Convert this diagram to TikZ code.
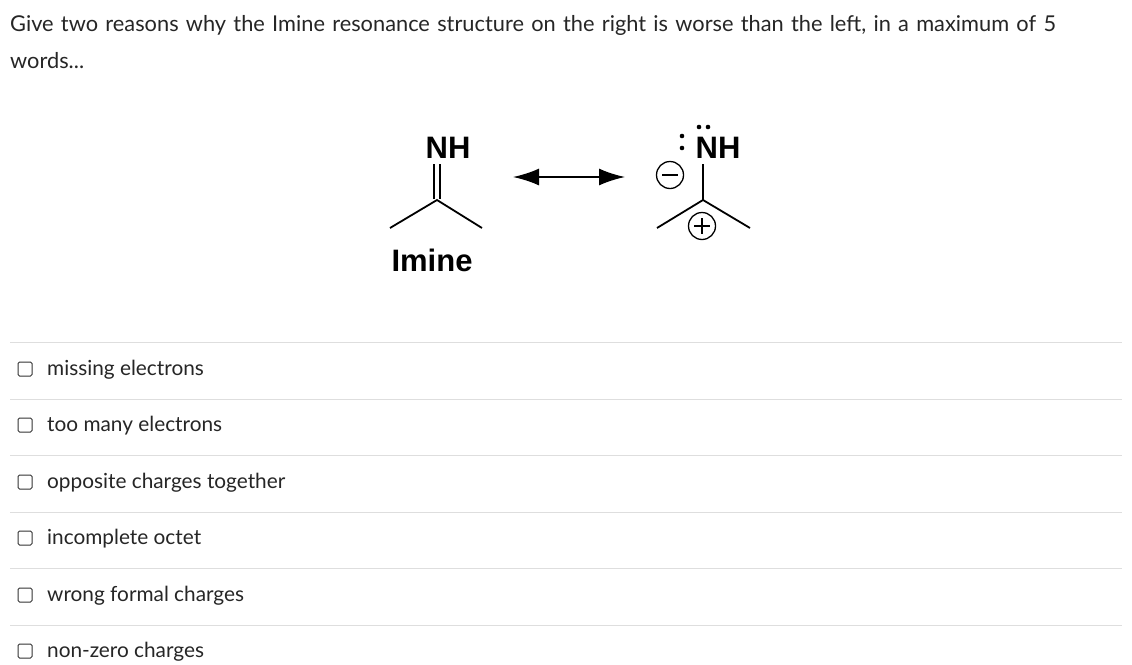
\documentclass[tikz,border=0pt]{standalone}
\usepackage{fontspec}
\setmainfont{Lato}
\newfontfamily\chemfont{Liberation Sans}
\usetikzlibrary{arrows.meta}
\begin{document}
\begin{tikzpicture}[x=1pt,y=-1pt,
  sep/.style={draw=black!13,line width=0.8pt},
  box/.style={draw=black!80,line width=1pt,rounded corners=1.5pt,minimum size=14pt,inner sep=0pt},
  opt/.style={anchor=west,font=\fontsize{20.8}{24}\selectfont,text=black!85,inner sep=0pt},
  bond/.style={line width=1.8pt},
  chg/.style={circle,draw,line width=1.3pt,minimum size=27pt,inner sep=0pt},
  atom/.style={font=\chemfont\bfseries\fontsize{31}{33}\selectfont,inner sep=0pt}]
\useasboundingbox (0,0) rectangle (1132,664);
\fill[white] (0,0) rectangle (1132,664);
\node[anchor=north west,text width=1122pt,align=left,inner sep=0pt,font=\fontsize{21.8}{37}\selectfont,text=black!85] (q) at (10,15)
 {Give two reasons why the Imine resonance structure on the right is worse than the left, in a maximum of 5 words...};
% left molecule
\node[atom] (nh1) at (448,148) {NH};
\coordinate (c1) at (437,200);
\coordinate (l1) at (390,228);
\coordinate (r1) at (482,228);
\draw[bond] (434,164) -- (434,199);
\draw[bond] (440,164) -- (440,199);
\draw[bond,line join=round] (l1) -- (c1) -- (r1);
\node[font=\chemfont\bfseries\fontsize{31}{33}\selectfont,inner sep=0pt] (im) at (432,260) {Imine};
% arrow
\coordinate (a1) at (513,177);
\coordinate (a2) at (625,177);
\draw[line width=1.8pt,{Latex[length=26pt,width=17pt]}-{Latex[length=26pt,width=17pt]}] (a1) -- (a2);
% right molecule
\node[atom] (nh2) at (718,148) {NH};
\coordinate (c2) at (703,200);
\coordinate (l2) at (657,228);
\coordinate (r2) at (750,228);
\draw[bond] (703,164) -- (c2);
\draw[bond,line join=round] (l2) -- (c2) -- (r2);
\node[chg] (minus) at (670,175) {};
\draw[line width=1.8pt] (662,175) -- (678,175);
\node[chg] (plus) at (702,226) {};
\draw[line width=1.8pt] (694,226) -- (710,226) (702,218) -- (702,234);
\foreach \p in {(699,127),(708,127),(682,136),(682,148)} \fill \p circle (2.3pt);
% options
\foreach \y in {342,399,455,512,568,625} \draw[sep] (10,\y) -- (1122,\y);
\foreach \y/\t/\n in {370/missing electrons/o1,426/too many electrons/o2,483/opposite charges together/o3,539/incomplete octet/o4,596/wrong formal charges/o5,652/non-zero charges/o6}{
  \node[box] (b\n) at (25,\y-1) {};
  \node[opt] (t\n) at (47,\y) {\t};
}
\end{tikzpicture}
\end{document}
